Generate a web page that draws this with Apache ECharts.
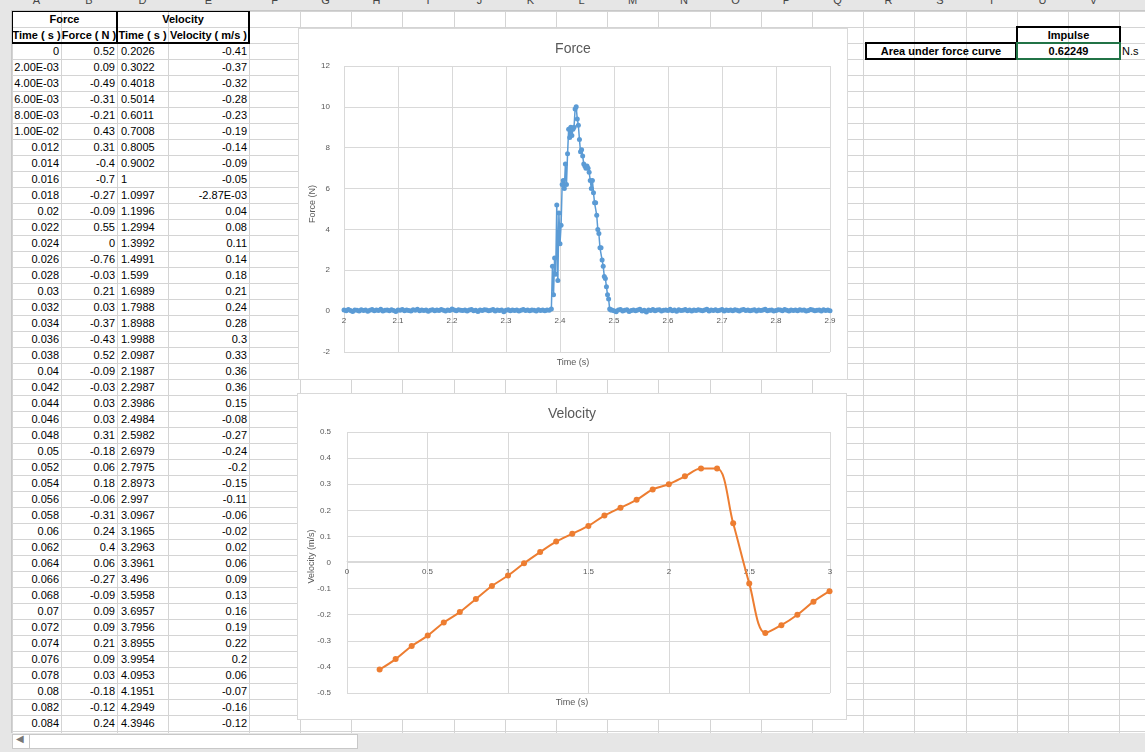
<!DOCTYPE html>
<html><head><meta charset="utf-8">
<script src="https://cdn.jsdelivr.net/npm/echarts@6/dist/echarts.min.js"></script>
<style>
body{margin:0;width:1145px;height:752px;overflow:hidden;background:#fff;font-family:"Liberation Sans",Arial,sans-serif;font-size:11px;position:relative}
.c{position:absolute;white-space:nowrap;line-height:16px;height:16px;color:#000}
#grid{position:absolute;left:12px;top:11px;width:1133px;height:722px;
background-image:linear-gradient(to bottom,#d4d4d4 1px,transparent 1px);background-size:100% 16px;background-position:0 0}
.vl{position:absolute;top:11px;height:722px;width:1px;background:#d4d4d4}
.box{position:absolute;border:2px solid #000;box-sizing:border-box}
</style></head><body>
<div id="grid"></div>
<div id="cells"></div>
<div id="force" style="position:absolute;left:298px;top:28px;width:550px;height:352px;background:#fff;border:1px solid #d9d9d9;box-sizing:border-box"></div>
<div id="vel" style="position:absolute;left:297px;top:393px;width:550px;height:327px;background:#fff;border:1px solid #d9d9d9;box-sizing:border-box"></div>
<script>
// ---- spreadsheet data ----
const tableTime=["0","2.00E-03","4.00E-03","6.00E-03","8.00E-03","1.00E-02","0.012","0.014","0.016","0.018","0.02","0.022","0.024","0.026","0.028","0.03","0.032","0.034","0.036","0.038","0.04","0.042","0.044","0.046","0.048","0.05","0.052","0.054","0.056","0.058","0.06","0.062","0.064","0.066","0.068","0.07","0.072","0.074","0.076","0.078","0.08","0.082","0.084"];
const tableForce=["0.52","0.09","-0.49","-0.31","-0.21","0.43","0.31","-0.4","-0.7","-0.27","-0.09","0.55","0","-0.76","-0.03","0.21","0.03","-0.37","-0.43","0.52","-0.09","-0.03","0.03","0.03","0.31","-0.18","0.06","0.18","-0.06","-0.31","0.24","0.4","0.06","-0.27","-0.09","0.09","0.09","0.21","0.09","0.03","-0.18","-0.12","0.24"];
const velTime=[0.2026,0.3022,0.4018,0.5014,0.6011,0.7008,0.8005,0.9002,1,1.0997,1.1996,1.2994,1.3992,1.4991,1.599,1.6989,1.7988,1.8988,1.9988,2.0987,2.1987,2.2987,2.3986,2.4984,2.5982,2.6979,2.7975,2.8973,2.997,3.0967,3.1965,3.2963,3.3961,3.496,3.5958,3.6957,3.7956,3.8955,3.9954,4.0953,4.1951,4.2949,4.3946];
const velValue=["-0.41","-0.37","-0.32","-0.28","-0.23","-0.19","-0.14","-0.09","-0.05","-2.87E-03","0.04","0.08","0.11","0.14","0.18","0.21","0.24","0.28","0.3","0.33","0.36","0.36","0.15","-0.08","-0.27","-0.24","-0.2","-0.15","-0.11","-0.06","-0.02","0.02","0.06","0.09","0.13","0.16","0.19","0.22","0.2","0.06","-0.07","-0.16","-0.12"];
const colLetters=["A","B","D","E","F","G","H","I","J","K","L","M","N","O","P","Q","R","S","T","U","V"];

// ---- chart data ----
const forceBaseBefore=[0.05,0.02,0.08,0.03,-0.02,0.06,0.04,0.01,0.07,0.03,0.05,-0.01,0.04,0.08,0.02,0.05,0.03,0.09,0.01,0.04,0.06,0.02,0.07,0.03,-0.02,0.05,0.04,0.08,0.02,0.06,0.03,0.01,0.07,0.04,0.09,0.02,0.05,0.03,0.06,-0.01,0.04,0.07,0.02,0.05,0.03,0.08,0.04,0.01,0.06,0.03,0.1,0.05,0.02,0.07,0.04,0.03,0.06,0.01,0.05,0.08,0.02,0.04,-0.02,0.06,0.03,0.07,0.05,0.02,0.04,0.08,0.01,0.05,0.03,0.06,-0.03,0.04,0.07,0.02,0.05,0.03,0.06,0.01,0.04,0.08,0.03,0.05,0.02,0.06,0.04,0.01,0.07,0.03,0.05,0.02,0.06,0.04];
const forcePulse=[0.1,2.2,0.8,2.6,1.8,5.2,1.5,4.8,3.3,4.2,6.2,6.4,6.0,7.2,6.2,7.7,8.9,8.5,9.0,8.6,8.9,9.0,9.9,10.0,9.4,9.1,8.4,7.8,7.9,7.6,7.2,7.1,7.0,7.1,7.0,6.8,6.4,6.0,6.4,5.8,5.3,5.3,4.7,4.0,3.8,3.1,3.1,2.5,2.2,1.7,1.6,1.2,0.8,0.6,0.1,0.05];
const forceBaseAfter=[0.06,0.02,-0.03,0.05,0.08,0.01,0.04,0.07,-0.02,0.03,0.06,0.02,0.05,0.09,0.01,0.04,-0.04,0.06,0.03,0.08,0.02,0.05,0.07,0.01,0.04,0.06,0.03,0.09,0.02,0.05,-0.01,0.07,0.03,0.04,0.08,0.02,0.06,0.01,0.05,0.03,0.07,0.04,0.02,0.06,0.09,0.01,0.05,0.03,0.07,0.02,0.04,0.08,0.01,0.06,0.03,0.05,0.02,0.07,0.04,0.01,0.06,0.08,0.03,0.05,0.02,0.04,0.07,0.01,0.06,0.03,0.05,0.09,0.02,0.04,0.06,0.01,0.03,0.07,0.05,0.02,0.08,0.04,0.01,0.06,0.03,0.05,0.02,0.07,0.04,0.06,0.01,0.03,0.08,0.05,0.02,0.04,0.06,0.01,0.07,0.03,0.05,0.02];
const forceStart=2.0, baseStep=0.004, pulseStart=2.384, pulseStep=0.002, afterStart=2.496;

// ---- build spreadsheet ----
const cells=document.getElementById('cells');
function cell(x,y,w,txt,align,bold){const d=document.createElement('div');d.className='c';d.style.left=x+'px';d.style.top=y+'px';d.style.width=w+'px';d.style.textAlign=align||'right';if(bold)d.style.fontWeight='bold';d.textContent=txt;cells.appendChild(d);return d;}
const colX=[12,61,117,168,249];for(let x=300;x<1145;x+=51.2)colX.push(Math.round(x));
colX.forEach(x=>{const v=document.createElement('div');v.className='vl';v.style.left=x+'px';cells.appendChild(v);});
const hdr=document.createElement('div');hdr.style.cssText='position:absolute;left:0;top:0;width:1145px;height:10px;background:#e6e6e6;border-bottom:1px solid #c8c8c8;overflow:hidden';document.body.appendChild(hdr);
for(let i=0;i<colX.length-1&&i<colLetters.length;i++){const d=document.createElement('div');d.style.cssText='position:absolute;top:-6px;font-size:11px;color:#444;text-align:center;width:'+(colX[i+1]-colX[i])+'px;left:'+colX[i]+'px';d.textContent=colLetters[i];hdr.appendChild(d);}
const rh=document.createElement('div');rh.style.cssText='position:absolute;left:0;top:10px;width:11px;height:723px;background:#e6e6e6;border-right:1px solid #c8c8c8';document.body.appendChild(rh);
cell(12,11,105,'Force','center',true);cell(117,11,132,'Velocity','center',true);
cell(12,27,49,'Time ( s )','center',true);cell(61,27,56,'Force ( N )','center',true);cell(117,27,51,'Time ( s )','center',true);cell(168,27,81,'Velocity ( m/s )','center',true);
for(let i=0;i<tableTime.length;i++){const y=43+16*i;
 cell(12,y,47,tableTime[i]);cell(61,y,54,tableForce[i]);
 cell(121,y,45,String(velTime[i]),'left');cell(168,y,79,velValue[i]);}
function box(x,y,w,h,c){const b=document.createElement('div');b.className='box';b.style.cssText+=';left:'+x+'px;top:'+y+'px;width:'+w+'px;height:'+h+'px;'+(c?'border-color:'+c:'');cells.appendChild(b);}
box(11,10,107,34);box(116,10,134,34);
box(1016,26,105,18);box(865,42,152,18);box(1016,42,105,18,'#217346');
cell(1017,27,103,'Impulse','center',true);cell(866,43,150,'Area under force curve','center',true);cell(1017,43,103,'0.62249','center',true);cell(1122,43,23,'N.s','left');
const sb=document.createElement('div');sb.style.cssText='position:absolute;left:0;top:733px;width:1145px;height:19px;background:#e6e6e6';document.body.appendChild(sb);
const sb2=document.createElement('div');sb2.style.cssText='position:absolute;left:12px;top:734px;width:344px;height:13px;background:#fff;border:1px solid #c8c8c8';sb2.innerHTML='<span style="position:absolute;left:3px;top:-2px;color:#777;font-size:10px">&#9664;</span><span style="position:absolute;left:16px;top:0;height:13px;border-left:1px solid #c8c8c8"></span>';document.body.appendChild(sb2);

// ---- charts ----
const forceData=[];
forceBaseBefore.forEach((v,i)=>forceData.push([forceStart+i*baseStep,v]));
forcePulse.forEach((v,i)=>forceData.push([pulseStart+i*pulseStep,v]));
forceBaseAfter.forEach((v,i)=>forceData.push([afterStart+i*baseStep,v]));
const velData=velTime.map((t,i)=>[t,parseFloat(velValue[i])]).filter(p=>p[0]<=3.0);

const txt='#595959',gl='#d9d9d9';
function common(title,name,yname){return{
 animation:false,
 title:{text:title,left:'center',top:8,textStyle:{fontSize:14,fontWeight:'normal',color:txt,fontFamily:'Liberation Sans'}},
 graphic:[{type:'text',left:'center',bottom:12,style:{text:name,fontSize:9,fill:txt}},
          {type:'text',left:9,top:'middle',rotation:Math.PI/2,style:{text:yname,fontSize:9,fill:txt}}]};}
// zero-line offsets: plot heights 288 (force, 14 units, zero 2 units up) and 263 (velocity, zero in middle)
const fc=echarts.init(document.getElementById('force'));
fc.setOption(Object.assign(common('Force','Time (s)','Force (N)'),{
 grid:{left:45,right:17,top:37,bottom:27},
 xAxis:{type:'value',min:2,max:2.9,interval:0.1,offset:-288*2/14,axisLine:{onZero:false,lineStyle:{color:gl}},axisTick:{show:false},
   splitLine:{lineStyle:{color:gl}},axisLabel:{color:txt,fontSize:8,formatter:v=>+v.toFixed(1)+'',margin:6}},
 yAxis:{type:'value',min:-2,max:12,interval:2,axisLine:{show:false},axisTick:{show:false},splitLine:{lineStyle:{color:gl}},axisLabel:{color:txt,fontSize:8,margin:14}},
 series:[{type:'line',data:forceData,symbol:'circle',symbolSize:5,itemStyle:{color:'#5B9BD5'},lineStyle:{color:'#5B9BD5',width:1.5}}]
}));
const vc=echarts.init(document.getElementById('vel'));
vc.setOption(Object.assign(common('Velocity','Time (s)','Velocity (m/s)'),{
 grid:{left:49,right:16,top:38,bottom:26},
 xAxis:{type:'value',min:0,max:3,interval:0.5,offset:-263/2,axisLine:{onZero:false,lineStyle:{color:gl}},axisTick:{show:false},
   splitLine:{lineStyle:{color:gl}},axisLabel:{color:txt,fontSize:8,margin:6}},
 yAxis:{type:'value',min:-0.5,max:0.5,interval:0.1,axisLine:{show:false},axisTick:{show:false},splitLine:{lineStyle:{color:gl}},axisLabel:{color:txt,fontSize:8,margin:16,formatter:v=>+v.toFixed(1)+''}},
 series:[{type:'line',data:velData,smooth:0.35,symbol:'circle',symbolSize:6,itemStyle:{color:'#ED7D31'},lineStyle:{color:'#ED7D31',width:2}}]
}));
</script></body></html>
